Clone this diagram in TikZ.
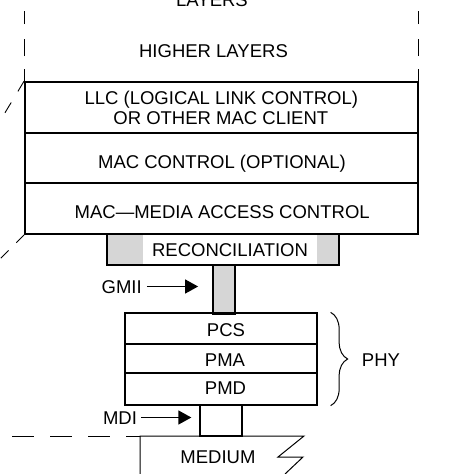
\documentclass[tikz,border=0pt]{standalone}
\usepackage{fontspec}
\setmainfont{Liberation Sans}
\usetikzlibrary{arrows.meta,decorations.pathreplacing}
\begin{document}
\begin{tikzpicture}[x=1pt, y=-1pt,
  layer/.style={draw, line width=1.8pt, minimum width=393pt, inner sep=0pt},
  sublayer/.style={draw, line width=1.3pt, minimum width=192pt, inner sep=0pt},
  shaded/.style={draw, line width=1.8pt, fill=black!16, inner sep=0pt},
  txt/.style={anchor=base, inner sep=2pt, font=\fontsize{18.5}{20}\selectfont, text height=13pt, text depth=0pt},
  ptr/.style={-{Triangle[length=13pt,width=14pt]}, line width=1.4pt},
  cut/.style={line width=0.9pt, dash pattern=on 12pt off 13pt on 17pt off 15pt on 13pt off 20pt}]
\useasboundingbox (0,0) rectangle (474,474);
\node[layer, minimum height=51pt] (llc) at (221.5,107.5) {};
\node[layer, minimum height=50pt] (macctl) at (221.5,158) {};
\node[layer, minimum height=51pt] (mac) at (221.5,208.5) {};
\node[shaded, minimum width=232pt, minimum height=31pt] (rs) at (223,249.5) {};
\node[txt, anchor=center, fill=white, minimum width=174pt, minimum height=29pt] (rslabel) at (230,249.5) {RECONCILIATION};
\node[shaded, minimum width=22pt, minimum height=49pt] (gmiibar) at (224,289.5) {};
\node[sublayer, minimum height=31pt] (pcs) at (221,328.5) {};
\node[sublayer, minimum height=29pt] (pma) at (221,358.5) {};
\node[sublayer, minimum height=32pt] (pmd) at (221,389) {};
\node[sublayer, minimum width=42pt, minimum height=31pt] (mdi) at (221,420.5) {};

\node[txt] (layers) at (212,6) {LAYERS};
\node[txt] (higher) at (213.5,57.6) {HIGHER LAYERS};
\node[txt] (llctop) at (221.3,104.6) {LLC (LOGICAL LINK CONTROL)};
\node[txt] (llcbot) at (220.8,124.6) {OR OTHER MAC CLIENT};
\node[txt] (macctllabel) at (222,168.6) {MAC CONTROL (OPTIONAL)};
\node[txt] (maclabel) at (222.2,218.6) {MAC---MEDIA ACCESS CONTROL};
\node[txt] (gmii) at (121.7,293) {GMII};
\node[txt] (pcslabel) at (226,336) {PCS};
\node[txt] (pmalabel) at (225,366) {PMA};
\node[txt] (pmdlabel) at (225.5,394) {PMD};
\node[txt] (phy) at (381,366) {PHY};
\node[txt] (mdilabel) at (120,424) {MDI};
\node[txt] (medium) at (218,463) {MEDIUM};

\draw[ptr, shorten <=3pt, shorten >=14pt] (gmii.east) -- (gmii.east -| gmiibar.west);
\draw[ptr, shorten <=2pt, shorten >=8pt] (mdilabel.east) -- (mdilabel.east -| mdi.west);
\draw[decorate, decoration={brace, amplitude=17pt}, line width=1pt]
  ([xshift=13pt]pcs.north east) -- ([xshift=13pt]pmd.south east);

\draw[cut] (llc.north west) -- ++(0,-71);
\draw[cut] (llc.north east) -- ++(0,-71);
\draw[cut, dash pattern=on 12pt off 13pt] (llc.north west) -- (-3,126);
\draw[cut, dash pattern=on 11pt off 11pt] (mac.south west) -- (-3,262);

\coordinate (medtop) at (140,436);
\coordinate (zz) at (304,436);
\draw[line width=1pt] (140,474) -- (medtop) -- (zz) -- (278,457) -- (303,457) -- (285,474);
\draw[line width=1pt, dash pattern=on 21.5pt off 16.5pt] (12,436) -- (medtop);
\end{tikzpicture}
\end{document}
